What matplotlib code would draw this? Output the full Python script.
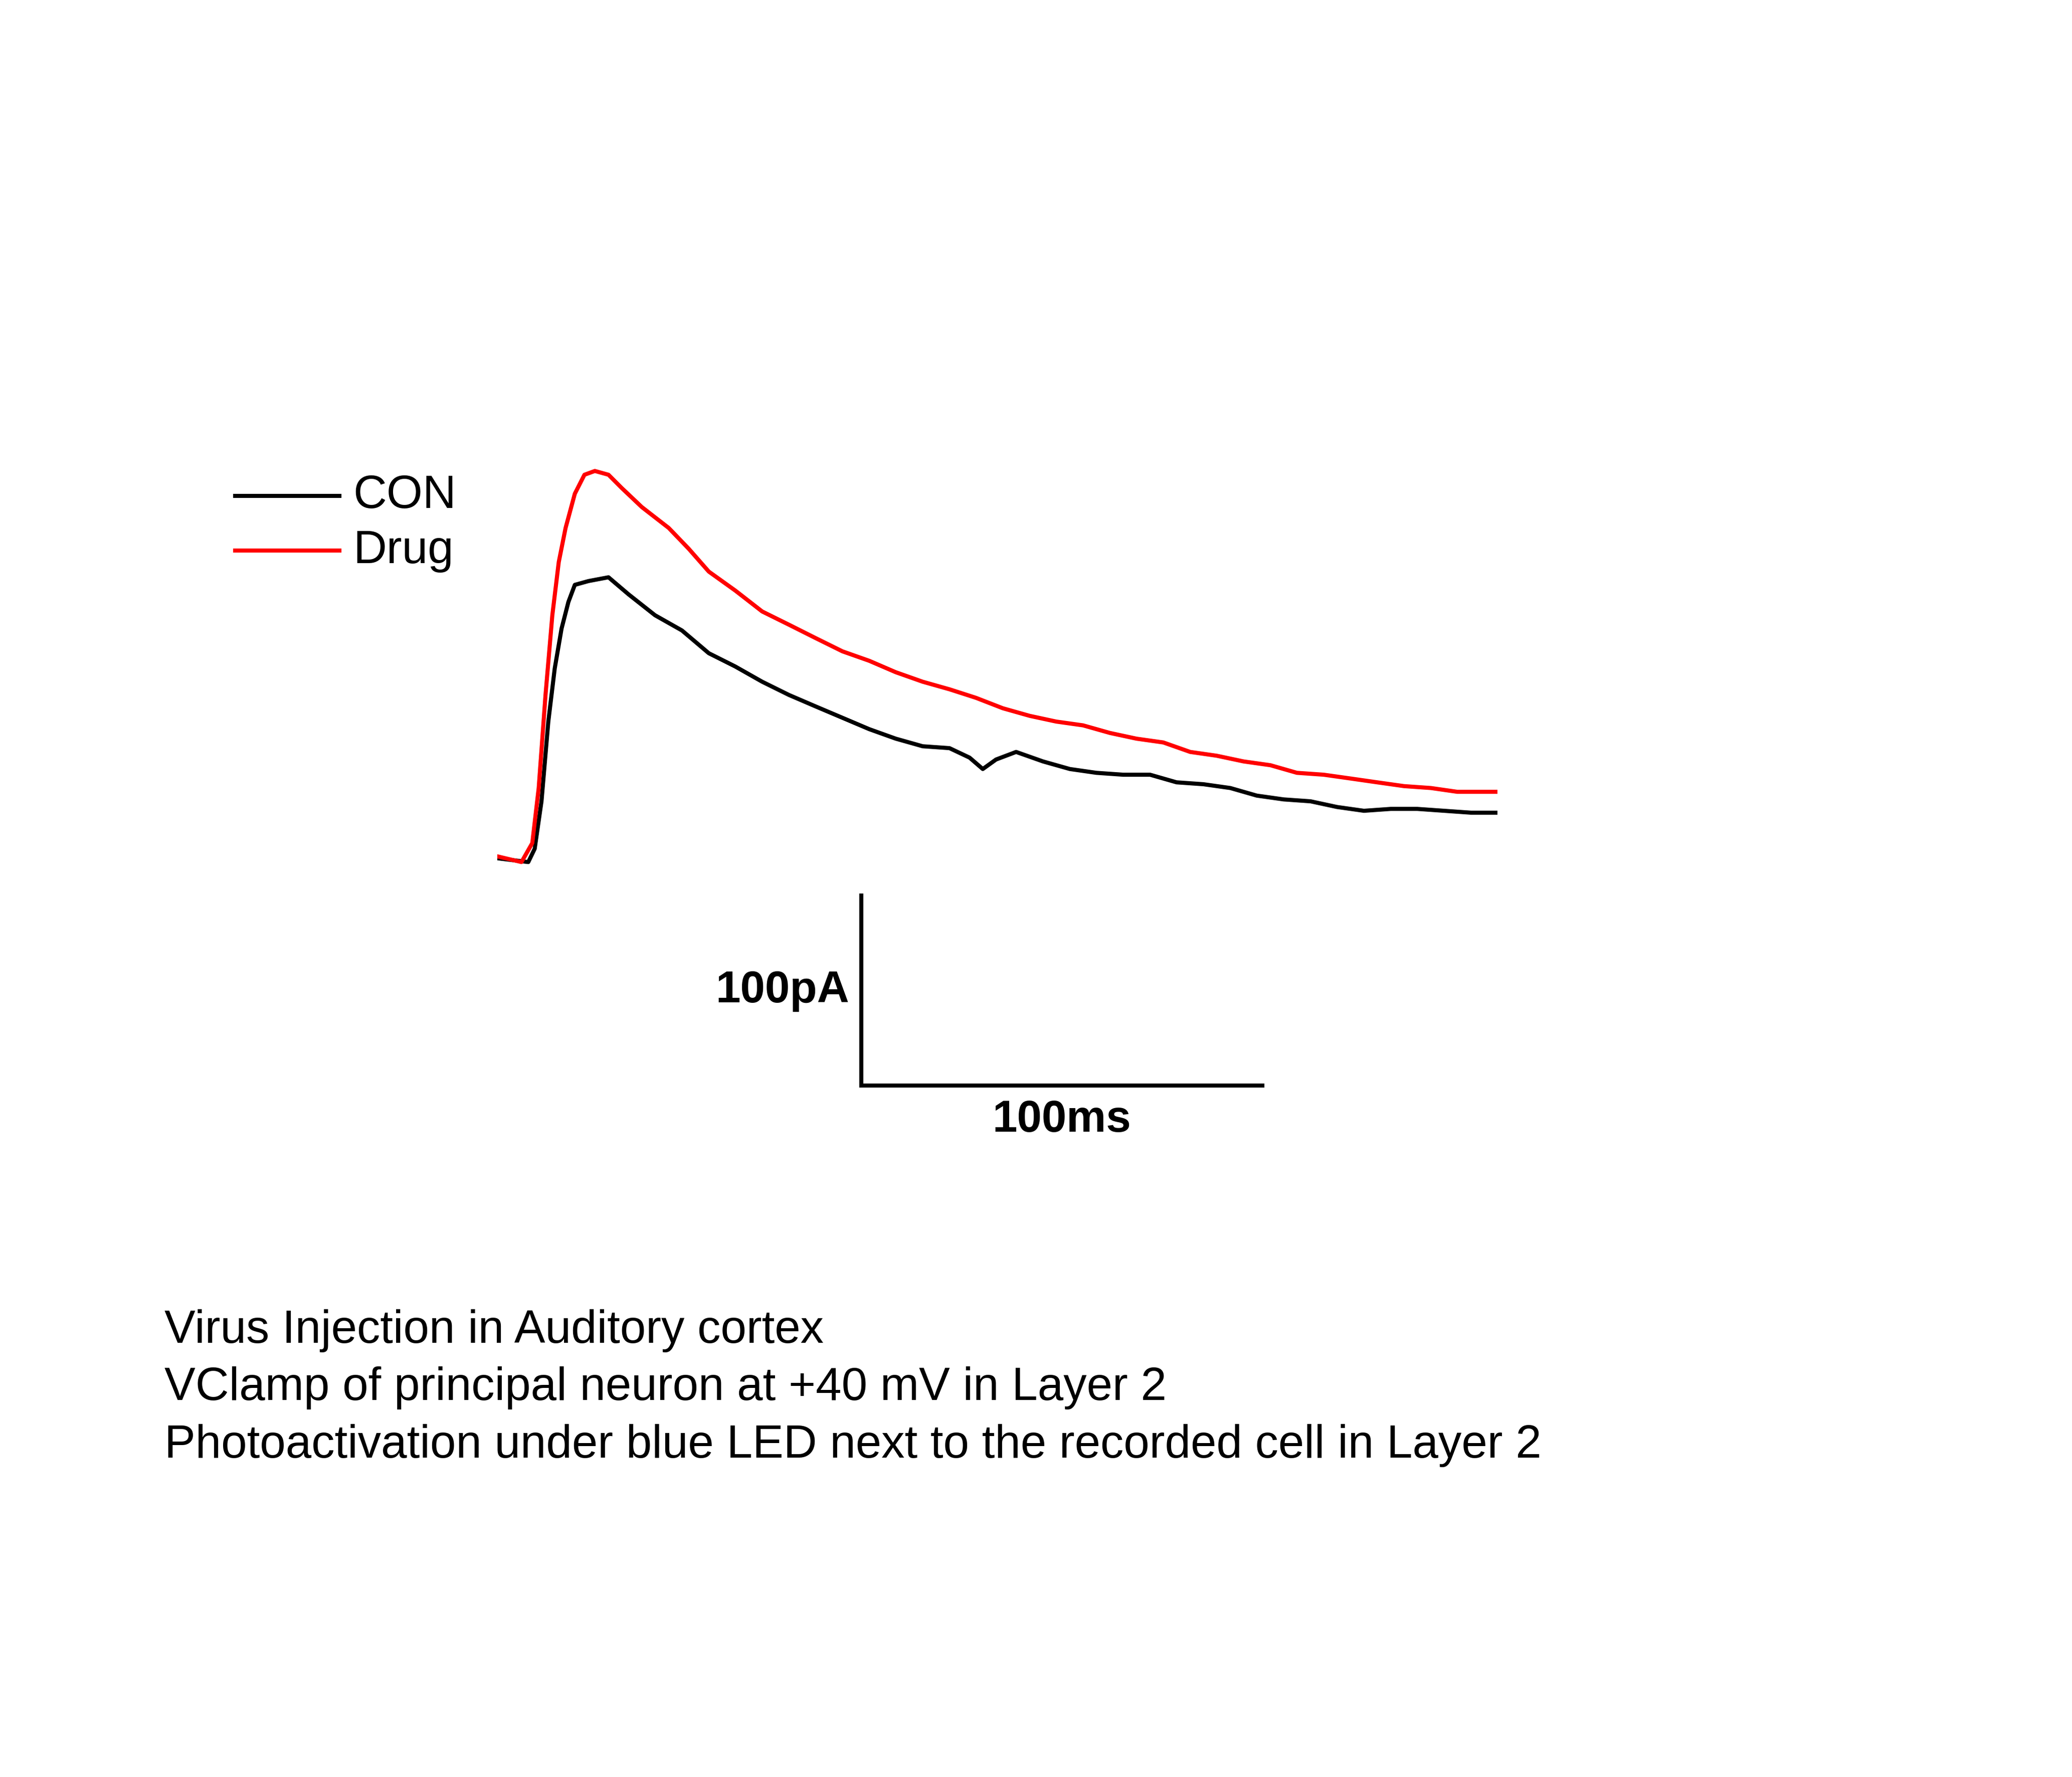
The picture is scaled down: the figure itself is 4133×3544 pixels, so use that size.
import matplotlib
matplotlib.use("Agg")
import matplotlib.pyplot as plt

plt.rcParams['font.family'] = ['Liberation Sans', 'DejaVu Sans']

# traces: time (ms) and current (pA)
t_con = [0, 7.7, 9.3, 11, 12.7, 14.3, 16, 17.7, 19.3, 22.7, 27.7, 32.7, 39.3, 46, 52.7, 59.3,
         66, 72.7, 79.3, 86, 92.7, 99.3, 106, 112.7, 117.7, 121, 124.3, 129.3, 136, 142.7,
         149.3, 156, 162.7, 169.3, 176, 182.7, 189.3, 196, 202.7, 209.3, 216, 222.7, 229.3,
         236, 242.7, 249.3]
i_con = [0, -2, 5, 30, 72, 100, 121, 135, 144, 146, 148, 139, 128, 120, 108, 101, 93, 86, 80,
         74, 68, 63, 59, 58, 53, 47, 52, 56, 51, 47, 45, 44, 44, 40, 39, 37, 33, 31, 30, 27,
         25, 26, 26, 25, 24, 24]
t_drug = [0, 6, 8.7, 10.3, 12, 13.7, 15.3, 17, 19.3, 21.7, 24.3, 27.7, 31, 36, 42.7, 47.7,
          52.7, 59.3, 66, 72.7, 79.3, 86, 92.7, 99.3, 106, 112.7, 119.3, 126, 132.7, 139.3,
          146, 152.7, 159.3, 166, 172.7, 179.3, 186, 192.7, 199.3, 206, 212.7, 219.3, 226,
          232.7, 239.3, 249.3]
i_drug = [1, -2, 8, 37, 86, 128, 156, 174, 192, 202, 204, 202, 195, 185, 174, 163, 151, 141,
          130, 123, 116, 109, 104, 98, 93, 89, 84.5, 79, 75, 72, 70, 66, 63, 61, 56, 54, 51,
          49, 45, 44, 42, 40, 38, 37, 35, 35]

labels = ["CON", "Drug"]
colors = ["black", "#ff0000"]
caption = ["Virus Injection in Auditory cortex",
           "VClamp of principal neuron at +40 mV in Layer 2",
           "Photoactivation under blue LED next to the recorded cell in Layer 2"]

W, H = 1550, 1329
fig = plt.figure(figsize=(15.5, 13.29), dpi=266.7)
ax = fig.add_axes([372 / W, 1 - 820 / H, (1120 - 372) / W, (820 - 340) / H])
ax.plot(t_con, i_con, color=colors[0], lw=2.2)
ax.plot(t_drug, i_drug, color=colors[1], lw=2.2)
ax.set_xlim(0, 249.3)
ax.set_ylim(-125.4, 212.7)
ax.axis('off')

# scale bar
x0, y0 = 90.7, -119.7
ax.plot([x0, x0, x0 + 100], [y0 + 100, y0, y0], color='black', lw=2.2,
        solid_joinstyle='miter', clip_on=False)
ax.text(x0 - 3, y0 + 50, "100pA", ha='right', va='center', fontsize=24, fontweight='bold')
ax.text(x0 + 50, y0 - 18, "100ms", ha='center', va='center', fontsize=24,
        fontweight='bold', clip_on=False)

# legend
for k, (lab, c) in enumerate(zip(labels, colors)):
    yy = 1 - (371 + 41 * k) / H
    fig.add_artist(plt.Line2D([176 / W, 254 / W], [yy, yy], color=c, lw=2.2))
    fig.text(264 / W, yy, lab, ha='left', va='center', fontsize=25)

for k, line in enumerate(caption):
    fig.text(123 / W, 1 - (995 + 43 * k) / H, line, ha='left', va='center', fontsize=25)

fig.savefig("out.png", dpi=266.7)
